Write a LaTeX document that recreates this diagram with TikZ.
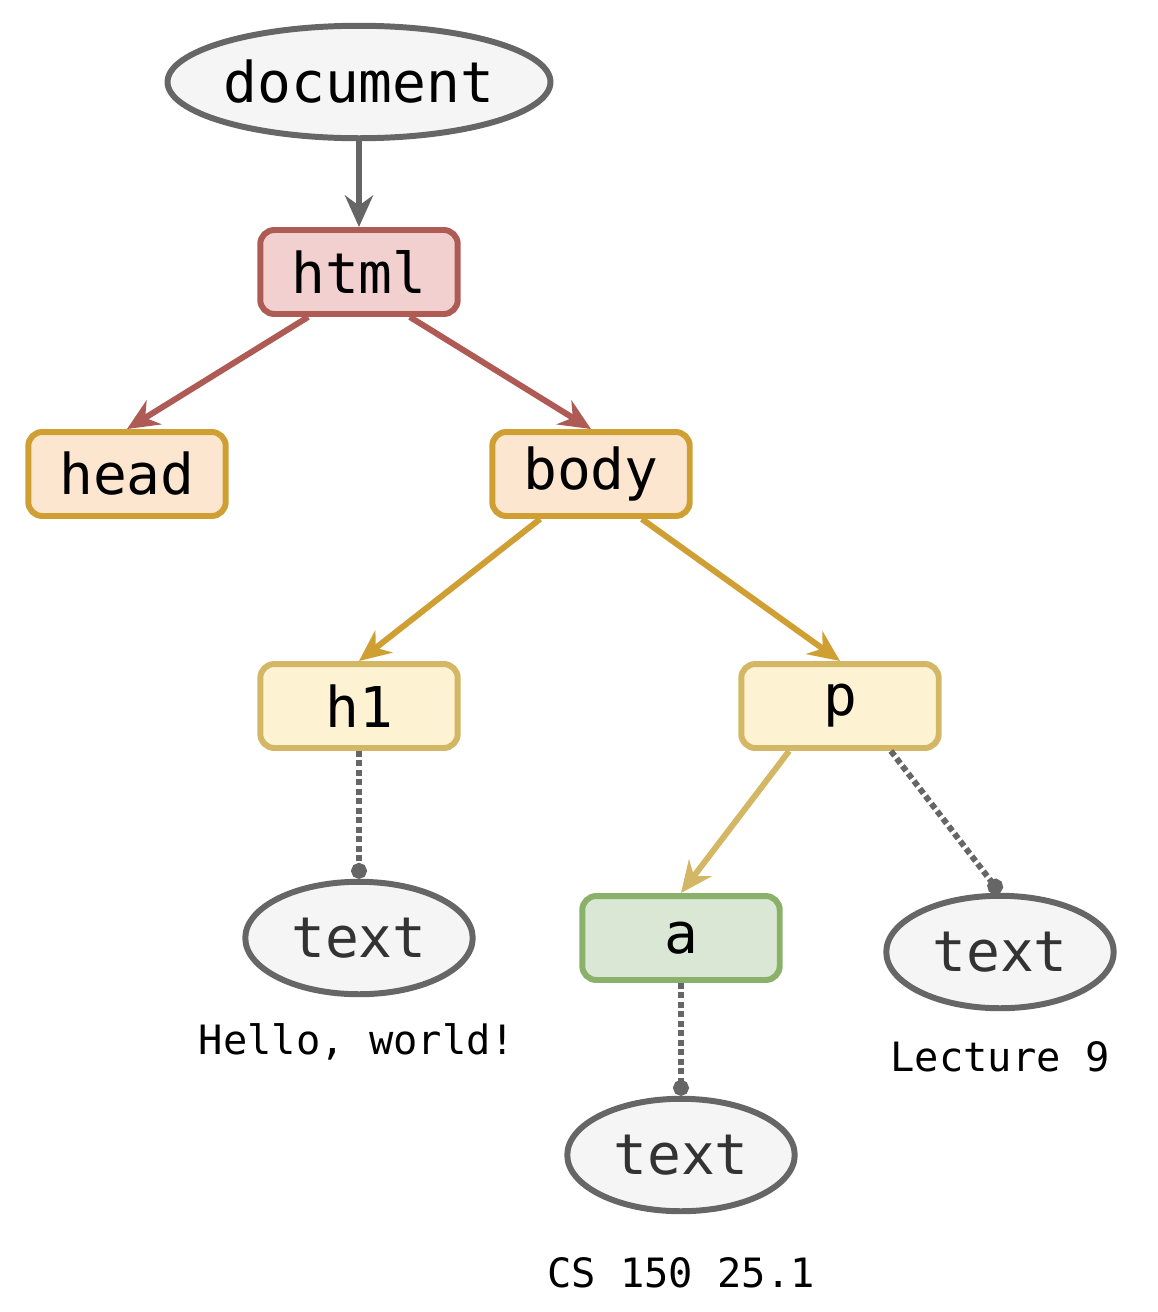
\documentclass[tikz,border=0pt]{standalone}
\usepackage{fontspec}
\setmonofont{DejaVu Sans Mono}
\usetikzlibrary{arrows.meta,shapes.geometric,calc}
\definecolor{gr}{HTML}{666666}
\definecolor{elf}{HTML}{F5F5F5}
\definecolor{htb}{HTML}{AE5A55}\definecolor{htf}{HTML}{F2D0CF}
\definecolor{bob}{HTML}{D09F34}\definecolor{bof}{HTML}{FCE6CF}
\definecolor{pb}{HTML}{D4B765}\definecolor{pf}{HTML}{FDF3D2}
\definecolor{ab}{HTML}{8AB16A}\definecolor{af}{HTML}{DAE7D5}
\begin{document}
\begin{tikzpicture}[x=0.02cm,y=-0.02cm,
 lw/.style={line width=3.4pt},
 box/.style={lw,rounded corners=8pt,minimum width=3.95cm,minimum height=1.68cm,inner sep=0pt,font=\fontsize{32}{36}\selectfont\ttfamily},
 ell/.style={ellipse,lw,draw=gr,fill=elf,inner sep=0pt},
 tx/.style={ell,minimum width=4.55cm,minimum height=2.25cm,font=\fontsize{32}{36}\selectfont\ttfamily,text=black!80},
 lab/.style={font=\fontsize{23}{28}\selectfont\ttfamily},
 arr/.style={lw,-{Stealth[length=18pt,width=16pt]}},
 dot/.style={lw,dotted,gr,-{Circle[length=9pt,width=9pt]}}]
\useasboundingbox (0,0) rectangle (1158,1312);
\node[ell,minimum width=7.35cm,minimum height=2.25cm,font=\fontsize{32}{36}\selectfont\ttfamily] (doc) at (359,82) {document};
\node[box,draw=htb,fill=htf] (html) at (359,272) {html};
\node[box,draw=bob,fill=bof] (head) at (127,474) {head};
\node[box,draw=bob,fill=bof] (body) at (591,474) {body};
\node[box,draw=pb,fill=pf] (h1) at (359,706) {h1};
\node[box,draw=pb,fill=pf] (p) at (840,706) {p};
\node[box,draw=ab,fill=af] (a) at (681,938) {a};
\node[tx] (t1) at (359,938) {text};
\node[tx] (t2) at (1000,952) {text};
\node[tx] (t3) at (681,1155) {text};
\node[lab] (l1) at (357,1042) {Hello, world!};
\node[lab] (l2) at (1000,1057) {Lecture 9};
\node[lab] (l3) at (681,1273) {CS 150 25.1};
\draw[arr,gr] (doc.south) -- (html.north);
\draw[arr,htb] ($(html.south west)!0.25!(html.south east)$) -- (head.north);
\draw[arr,htb] ($(html.south west)!0.75!(html.south east)$) -- (body.north);
\draw[arr,bob] ($(body.south west)!0.25!(body.south east)$) -- (h1.north);
\draw[arr,bob] ($(body.south west)!0.75!(body.south east)$) -- (p.north);
\draw[arr,pb] ($(p.south west)!0.25!(p.south east)$) -- (a.north);
\draw[dot] (h1.south) -- (t1.north);
\draw[dot] ($(p.south west)!0.75!(p.south east)$) -- (t2.north);
\draw[dot] (a.south) -- (t3.north);
\end{tikzpicture}
\end{document}
